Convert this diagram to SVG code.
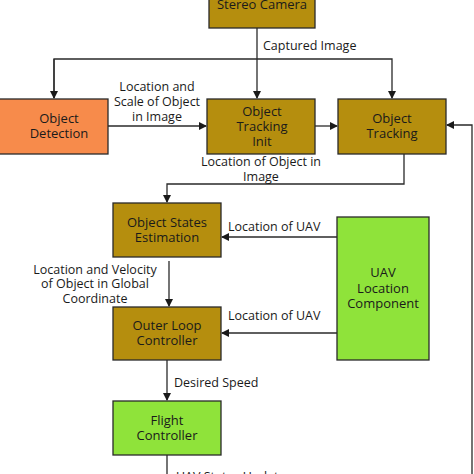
<svg xmlns="http://www.w3.org/2000/svg" width="474" height="474" viewBox="0 0 474 474">
<style>
.box{stroke:#2a2a2a;stroke-width:1.3}
.brown{fill:#B58E0E}
.orange{fill:#F78B4B}
.green{fill:#8FE33A}
text{font-family:"Open Sans","Noto Sans",sans-serif;font-size:13px;fill:#1a1a1a;text-anchor:middle}
.lbl{font-size:12.5px}
.l{text-anchor:start}
.c{fill:none;stroke:#2a2a2a;stroke-width:1.3}
</style>
<defs>
<marker id="ah" markerWidth="8" markerHeight="8" refX="7" refY="4" orient="auto" markerUnits="userSpaceOnUse">
<path d="M0,0 L8,4 L0,8 Z" fill="#1a1a1a"/>
</marker>
</defs>
<rect width="474" height="474" fill="#fff"/>
<g id="connectors">
<path class="c" d="M257,28 V98" marker-end="url(#ah)"/>
<path class="c" d="M54,98 V59 H392 V98" marker-end="url(#ah)"/>
<path class="c" d="M54,59 V98" marker-end="url(#ah)"/>
<path class="c" d="M108,126 H206" marker-end="url(#ah)"/>
<path class="c" d="M315,126 H337" marker-end="url(#ah)"/>
<path class="c" d="M472,474 V125 H447" marker-end="url(#ah)"/>
<path class="c" d="M404,154 V184 H167 V202" marker-end="url(#ah)"/>
<path class="c" d="M337,237 H222" marker-end="url(#ah)"/>
<path class="c" d="M337,333 H222" marker-end="url(#ah)"/>
<path class="c" d="M169,261 V306" marker-end="url(#ah)"/>
<path class="c" d="M167,360 V400" marker-end="url(#ah)"/>
<path class="c" d="M167,455 V474"/>
<text class="lbl l" x="263" y="50">Captured Image</text>
<text class="lbl" x="157" y="91">Location and</text>
<text class="lbl" x="157" y="106">Scale of Object</text>
<text class="lbl" x="157" y="121">in Image</text>
<text class="lbl" x="261" y="166">Location of Object in</text>
<text class="lbl" x="261" y="181">Image</text>
<text class="lbl l" x="228" y="231">Location of UAV</text>
<text class="lbl l" x="228" y="320">Location of UAV</text>
<text class="lbl" x="95" y="274">Location and Velocity</text>
<text class="lbl" x="95" y="288">of Object in Global</text>
<text class="lbl" x="95" y="303">Coordinate</text>
<text class="lbl l" x="174" y="387">Desired Speed</text>
<text class="lbl l" x="176" y="481">UAV States Update</text>
</g>
<g id="stereo-camera">
<rect class="box brown" x="209" y="-10" width="106" height="38"/>
<text x="262" y="9">Stereo Camera</text>
</g>
<g id="object-detection">
<rect class="box orange" x="-2" y="99" width="110" height="55"/>
<text x="59" y="123">Object</text>
<text x="59" y="138">Detection</text>
</g>
<g id="object-tracking-init">
<rect class="box brown" x="207" y="99" width="108" height="55"/>
<text x="262" y="116">Object</text>
<text x="262" y="131">Tracking</text>
<text x="262" y="146">Init</text>
</g>
<g id="object-tracking">
<rect class="box brown" x="338" y="99" width="108" height="55"/>
<text x="392" y="123">Object</text>
<text x="392" y="138">Tracking</text>
</g>
<g id="object-states-estimation">
<rect class="box brown" x="113" y="203" width="108" height="54"/>
<text x="167" y="227">Object States</text>
<text x="167" y="242">Estimation</text>
</g>
<g id="uav-location-component">
<rect class="box green" x="337" y="217" width="92" height="143"/>
<text x="383" y="277">UAV</text>
<text x="383" y="293">Location</text>
<text x="383" y="308">Component</text>
</g>
<g id="outer-loop-controller">
<rect class="box brown" x="113" y="307" width="108" height="53"/>
<text x="167" y="330">Outer Loop</text>
<text x="167" y="345">Controller</text>
</g>
<g id="flight-controller">
<rect class="box green" x="113" y="401" width="108" height="54"/>
<text x="167" y="425">Flight</text>
<text x="167" y="440">Controller</text>
</g>
</svg>
